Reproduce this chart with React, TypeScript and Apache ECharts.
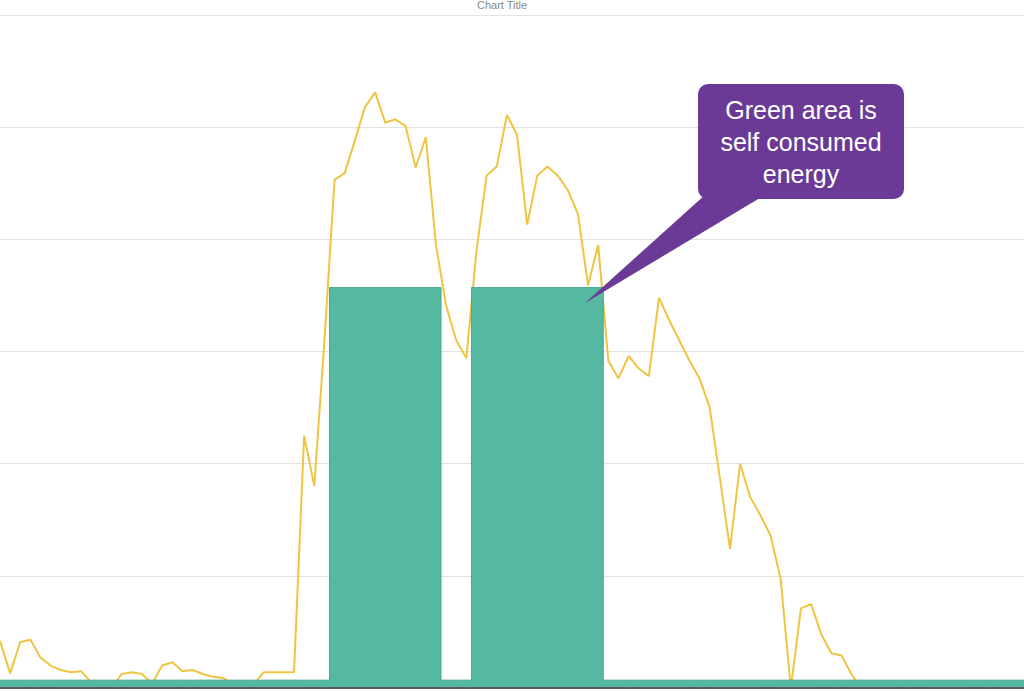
import React, { useEffect, useRef } from "react";
import * as echarts from "echarts";

// time slots (one before the visible area, then 0..100)
const slots: string[] = Array.from({ length: 102 }, (_, k) => String(k - 1));

// Production (yellow line)
const production: number[] = [
  0.42, 0.13, 0.41, 0.43, 0.27, 0.2, 0.16, 0.14, 0.15, 0.05,
  0, 0, 0.125, 0.14, 0.125, 0.04, 0.2, 0.23, 0.15, 0.16,
  0.125, 0.1, 0.09, 0.03, 0, 0.03, 0.14, 0.14, 0.14, 0.14,
  2.25, 1.8, 3.1, 4.53, 4.59, 4.88, 5.18, 5.31, 5.04, 5.07,
  5.01, 4.64, 4.91, 3.95, 3.41, 3.1, 2.94, 3.9, 4.57, 4.65,
  5.11, 4.93, 4.13, 4.57, 4.65, 4.57, 4.44, 4.23, 3.59, 3.95,
  2.92, 2.76, 2.96, 2.85, 2.78, 3.48, 3.28, 3.1, 2.92, 2.76,
  2.5, 1.875, 1.24, 2.0, 1.7, 1.54, 1.36, 0.97, 0, 0.71,
  0.75, 0.48, 0.31, 0.29, 0.12, 0, 0, 0, 0, 0,
  0, 0, 0, 0, 0, 0, 0, 0, 0, 0,
  0, 0,
];

// Self-consumed (green stepped area)
const selfConsumed: number[] = slots.map((_, k) => {
  const i = k - 1;
  if ((i >= 32 && i <= 42) || (i >= 46 && i <= 58)) return 3.57;
  return 0.07;
});

const yTicks = [0, 1, 2, 3, 4, 5, 6];
const calloutText = "Green area is\nself consumed\nenergy";

export default function App() {
  const ref = useRef<HTMLDivElement>(null);
  useEffect(() => {
    if (!ref.current) return;
    const chart = echarts.init(ref.current, null, { renderer: "svg" });
    chart.setOption({
      animation: false,
      backgroundColor: "#ffffff",
      title: {
        text: "Chart Title",
        left: 472,
        top: -6,
        textStyle: { fontSize: 11, color: "#888", fontWeight: "normal" },
      },
      grid: { left: -8.3, right: -8, top: 15, bottom: 3 },
      xAxis: {
        type: "category",
        data: slots,
        boundaryGap: false,
        z: 10,
        axisLine: { show: true, lineStyle: { color: "#5a5a5a", width: 2 } },
        axisTick: { show: false },
        axisLabel: { show: false },
        splitLine: { show: false },
      },
      yAxis: {
        type: "value",
        min: yTicks[0],
        max: yTicks[yTicks.length - 1],
        interval: 1,
        axisLine: { show: false },
        axisTick: { show: false },
        axisLabel: { show: false },
        splitLine: { show: true, lineStyle: { color: "#e2e2e2", width: 1 } },
      },
      series: [
        {
          name: "Production",
          type: "line",
          data: production,
          symbol: "none",
          z: 2,
          lineStyle: { color: "#f0c443", width: 2 },
        },
        {
          name: "Self consumed",
          type: "line",
          data: selfConsumed,
          step: "middle",
          symbol: "none",
          z: 3,
          lineStyle: { color: "#46a98f", width: 1 },
          areaStyle: { color: "#55b8a0", opacity: 1 },
        },
      ],
      graphic: [
        {
          type: "polygon",
          z: 100,
          shape: { points: [[716, 185], [773, 190], [585, 303]] },
          style: { fill: "#6b3a97" },
        },
        {
          type: "rect",
          z: 100,
          shape: { x: 698, y: 84, width: 206, height: 115, r: 10 },
          style: { fill: "#6b3a97" },
        },
        {
          type: "text",
          z: 101,
          x: 801,
          y: 142,
          style: {
            text: calloutText,
            fill: "#ffffff",
            fontSize: 25,
            lineHeight: 32,
            fontFamily: "Liberation Sans, Arial, sans-serif",
            align: "center",
            verticalAlign: "middle",
          },
        },
      ],
    });
    return () => chart.dispose();
  }, []);
  return (
    <div
      ref={ref}
      style={{ position: "fixed", left: 0, top: 0, width: 1024, height: 691 }}
    />
  );
}
